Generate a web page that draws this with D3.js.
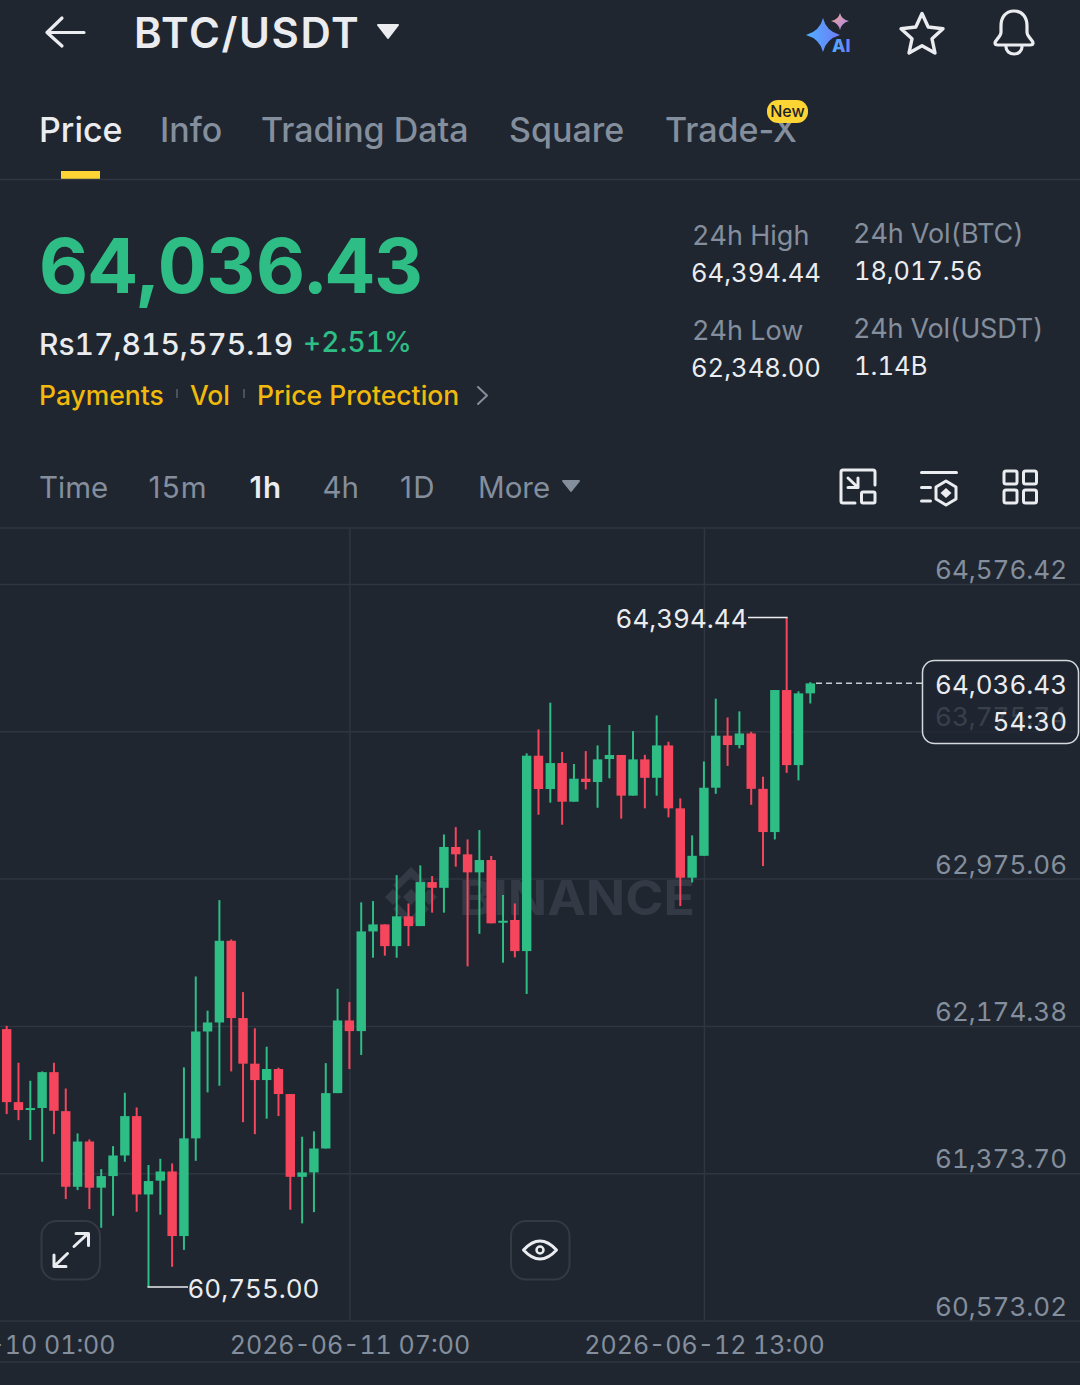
<!DOCTYPE html>
<html>
<head>
<meta charset="utf-8">
<style>
  html, body { margin: 0; padding: 0; background: #1f2630; }
  svg { display: block; }
  text { font-family: Inter, sans-serif; font-variant-numeric: tabular-nums; }
  .axis path { display: none; }
  .grid line { stroke: #2f3641; stroke-width: 1.5; }
  .prices text { font-size: 26px; fill: #848e9c; text-anchor: end; }
  .times text { font-size: 25px; fill: #848e9c; }
</style>
</head>
<body>
<svg width="1080" height="1385"></svg>
<script src="https://d3js.org/d3.v7.min.js"></script>
<script>

var opens = [62157,61760,61717,61728,61923,61711,61300,61546,61295,61358,61470,61684,61258,61333,61383,61032,61563,62144,62193,62637,62217,61969,61880,61940,61804,61354,61378,61508,61809,62204,
  62146,62688,62726,62608,62770,62717,62956,62925,63147,63107,63009,63076,62735,62750,62581,63643,63462,63603,63393,63518,63500,63625,63647,63426,63623,63523,63699,63357,62980,
  63099,63469,63752,63701,63764,63463,63228,64000,63592,63982];
var highs = [62175,61974,61876,61927,61974,61834,61590,61557,61396,61521,61811,61731,61418,61452,61427,61949,62443,62257,62858,62644,62358,62161,62061,61947,61804,61572,61601,61972,62376,62304,
  62846,62853,62726,62994,62840,63047,62989,63215,63255,63188,63239,63098,62886,62840,63656,63786,63931,63663,63598,63668,63699,63810,63647,63777,63648,63862,63719,63411,63210,
  63612,63953,63851,63884,63773,63529,64000,64394.44,63993,64043];
var lows = [61695,61662,61554,61436,61586,61233,61282,61179,61077,61142,61436,61164,60755,61148,60865,60957,61441,61813,61849,61927,61651,61586,61670,61684,61175,61101,61162,61508,61809,61940,
  62016,62545,62556,62545,62608,62717,62790,62790,63040,62498,62675,62732,62518,62547,62348,63322,63388,63268,63393,63460,63360,63520,63301,63426,63357,63426,63308,62826,62954,
  63099,63436,63588,63683,63376,63043,63188,63550,63509,63927];
var closes = [61760,61717,61728,61923,61713,61300,61546,61295,61358,61470,61684,61258,61331,61383,61032,61563,62144,62193,62637,62217,61969,61880,61940,61804,61354,61378,61508,61809,62204,62146,
  62688,62726,62608,62770,62717,62956,62925,63147,63107,63009,63076,62732,62746,62581,63643,63462,63603,63393,63518,63500,63623,63647,63426,63623,63523,63699,63357,62980,63099,
  63469,63752,63701,63764,63463,63228,64000,63592,63982,64036.43];

var priceTicks = [64576.42, 63775.74, 62975.06, 62174.38, 61373.70, 60573.02];
var timeTicks = [Date.UTC(2026,5,10,1), Date.UTC(2026,5,11,7), Date.UTC(2026,5,12,13)];
var firstCandle = Date.UTC(2026,5,10,2);
var lastCandle = Date.UTC(2026,5,12,22);
var dayHigh = 64394.44, dayLow = 60755.00, lastPrice = 64036.43;

var tabs = ["Price", "Info", "Trading Data", "Square", "Trade-X"];
var intervals = ["Time", "15m", "1h", "4h", "1D", "More"];

var green = "#2ebd85", red = "#f6465d", white = "#eaecef", gray = "#848e9c", yellow = "#fcd535", gold = "#f0b90b";
var bg = "#1f2630";

var svg = d3.select("svg");

var x = d3.scaleUtc().domain([firstCandle, lastCandle]).range([6.67, 810.3]);
var y = d3.scaleLinear().domain([60573.02, 64576.42]).range([1320.5, 584]);

function label(txt, px, py, size, fill, weight, anchor, spacing) {
  return svg.append("text").attr("x", px).attr("y", py)
    .attr("font-size", size).attr("fill", fill)
    .attr("font-weight", weight || 400)
    .attr("text-anchor", anchor || "start")
    .style("letter-spacing", (spacing || 0) + "px")
    .text(txt);
}

function icon(d, width, color) {
  return svg.append("path").attr("d", d).attr("fill", "none")
    .attr("stroke", color || white).attr("stroke-width", width)
    .attr("stroke-linecap", "round").attr("stroke-linejoin", "round");
}

// header
icon("M84 32.5H47M62 18L47 32.5L62 46", 3.2);
label("BTC/USDT", 134, 48, 42, white, 600, "start", 1.6);
svg.append("path").attr("d", "M378 25H398L388 38Z").attr("fill", white)
  .attr("stroke", white).attr("stroke-width", 2).attr("stroke-linejoin", "round");

var defs = svg.append("defs");
var aiGrad = defs.append("linearGradient").attr("id", "ai").attr("x1", 0).attr("y1", 0).attr("x2", 1).attr("y2", 0);
aiGrad.append("stop").attr("offset", "0").attr("stop-color", "#4fb0ff");
aiGrad.append("stop").attr("offset", "1").attr("stop-color", "#6f7bf7");
var aiGrad2 = defs.append("linearGradient").attr("id", "ai2").attr("x1", 0).attr("y1", 0).attr("x2", 1).attr("y2", 1);
aiGrad2.append("stop").attr("offset", "0").attr("stop-color", "#f0a98e");
aiGrad2.append("stop").attr("offset", "1").attr("stop-color", "#a884f5");
svg.append("path").attr("d", "M823 18Q826 31 840 35Q826 39 823 52Q820 39 806 35Q820 31 823 18Z").attr("fill", "url(#ai)");
svg.append("path").attr("d", "M840 13Q841.5 19.5 849 21Q841.5 23 840 30Q838.5 23 831 21Q838.5 19.5 840 13Z").attr("fill", "url(#ai2)");
label("AI", 832, 52, 17.5, "url(#ai)", 800);

icon("M922 13.5L928.2 27L943 28.8L932 38.8L935 53L922 45.8L909 53L912 38.8L901 28.8L915.8 27Z", 3.4);
icon("M1014 11C1005 11 1001 18 1001 26V32C1001 37 995 40 995 43Q995 45 998 45H1030Q1033 45 1033 43C1033 40 1027 37 1027 32V26C1027 18 1023 11 1014 11ZM1006 47A8 7 0 0 0 1022 47", 3.2);

// tabs
var tabX = [39, 160, 261, 509, 665];
tabs.forEach(function(t, i) {
  label(t, tabX[i], 142, 34, i == 0 ? white : gray, 500).style("font-variant-numeric", "normal");
});
svg.append("rect").attr("x", 61).attr("y", 171).attr("width", 39).attr("height", 8).attr("fill", yellow);
svg.append("rect").attr("x", 767).attr("y", 100).attr("width", 41).attr("height", 23).attr("rx", 11).attr("fill", yellow);
label("New", 787.5, 117, 16, "#1e2329", 500, "middle");
svg.append("line").attr("x1", 0).attr("x2", 1080).attr("y1", 179.5).attr("y2", 179.5).attr("stroke", "#2f3641").attr("stroke-width", 1.5);

// ticker block
label("64,036.43", 39, 293, 76, green, 700);
label("Rs17,815,575.19", 39, 355, 30, white, 500);
label("+2.51%", 303, 352, 28, green, 500, "start", 0.2);
label("Payments", 39, 405, 26.5, gold, 500);
label("Vol", 190, 405, 26.5, gold, 500);
label("Price Protection", 257, 405, 26.5, gold, 500);
svg.selectAll(".sep").data([177, 244]).enter().append("line").attr("class", "sep")
  .attr("x1", function(d) { return d; }).attr("x2", function(d) { return d; })
  .attr("y1", 389).attr("y2", 398).attr("stroke", "#4a515d").attr("stroke-width", 2);
icon("M478 387L487 395.5L478 404", 2, gray);

label("24h High", 692, 245, 27, gray);
label("64,394.44", 691, 282, 25.6, white);
label("24h Low", 692, 340, 27, gray);
label("62,348.00", 691, 377, 25.6, white);
label("24h Vol(BTC)", 853, 243, 27, gray, 400, "start", -0.1);
label("18,017.56", 854, 280, 25.3, white);
label("24h Vol(USDT)", 853, 338, 27, gray, 400, "start", -0.2);
label("1.14B", 854, 375, 25.6, white);

// interval row
var intervalX = [39, 148.5, 249.5, 322.5, 400, 478];
var intervalSpacing = [0, 1.2, 1, 0, 1.2, 0];
intervals.forEach(function(t, i) {
  label(t, intervalX[i], 498, 29.5, i == 2 ? white : gray, i == 2 ? 600 : 400, "start", intervalSpacing[i])
    .style("font-variant-numeric", "normal");
});
svg.append("path").attr("d", "M563 481H579L571 491Z").attr("fill", gray)
  .attr("stroke", gray).attr("stroke-width", 2).attr("stroke-linejoin", "round");

icon("M855 503H843Q841 503 841 501V472Q841 470 843 470H873Q875 470 875 472V485M848 478L858 487.5M848 487.5H858V478", 3);
svg.append("rect").attr("x", 861.5).attr("y", 492).attr("width", 13.5).attr("height", 11).attr("rx", 1.5)
  .attr("fill", "none").attr("stroke", white).attr("stroke-width", 3);
icon("M921.5 472.5H956.5M921.5 487.5H930.5M921.5 501H930.5M946 481L956 487V499L946 505L936 499V487Z", 3);
svg.append("path").attr("d", "M946 488L951.5 493L946 498L940.5 493Z").attr("fill", white);
svg.selectAll(".cell").data([[1004,471],[1023.5,471],[1004,490],[1023.5,490]]).enter().append("rect").attr("class", "cell")
  .attr("x", function(d) { return d[0]; }).attr("y", function(d) { return d[1]; })
  .attr("width", 13).attr("height", 13).attr("rx", 2)
  .attr("fill", "none").attr("stroke", white).attr("stroke-width", 3);

// grid
svg.selectAll(".frame").data([528, 1362]).enter().append("line").attr("class", "frame")
  .attr("x1", 0).attr("x2", 1080)
  .attr("y1", function(d) { return d; }).attr("y2", function(d) { return d; })
  .attr("stroke", "#2f3641").attr("stroke-width", 1.5);

svg.append("g").attr("class", "axis grid")
  .attr("transform", "translate(1080,0)")
  .call(d3.axisLeft(y).tickValues(priceTicks).tickSize(1080).tickFormat(""));

svg.append("g").attr("class", "axis grid")
  .attr("transform", "translate(0,1320.5)")
  .call(d3.axisTop(x).tickValues(timeTicks).tickSize(792).tickFormat(""));

// watermark sits under the candles
var mark = svg.append("g").attr("fill", "#343a45");
mark.append("text").attr("x", 459).attr("y", 915).attr("font-size", 48).attr("font-weight", 700)
  .attr("textLength", 236).attr("lengthAdjust", "spacingAndGlyphs").text("BINANCE");
mark.append("path").attr("d",
  "M411 889L419 897L411 905L403 897Z" +
  "M393 889L401 897L393 905L385 897Z" +
  "M429 889L437 897L429 905L421 897Z" +
  "M411 867L429 885L424 890L411 877L398 890L393 885Z" +
  "M411 927L429 909L424 904L411 917L398 904L393 909Z");

// price axis labels, the middle one ends up dimmed behind the box
svg.append("g").attr("class", "axis prices")
  .attr("transform", "translate(1067,0)")
  .call(d3.axisLeft(y).tickValues(priceTicks).tickSize(0).tickPadding(0).tickFormat(d3.format(",.2f")))
  .selectAll("text").attr("dy", -5.5);

svg.append("g").attr("class", "axis times")
  .attr("transform", "translate(0,1320.5)")
  .call(d3.axisBottom(x).tickValues(timeTicks).tickSize(0).tickPadding(16)
    .tickFormat(d3.utcFormat("%Y-%m-%d %H:%M")));

// candles
var times = d3.utcHour.range(firstCandle, lastCandle + 1);
var candles = times.map(function(t, i) {
  return {time: t, open: opens[i], high: highs[i], low: lows[i], close: closes[i]};
});
function candleColor(d) { return d.close >= d.open ? green : red; }

var candle = svg.append("g").selectAll("g").data(candles).enter().append("g");

candle.append("line")
  .attr("x1", function(d) { return x(d.time); })
  .attr("x2", function(d) { return x(d.time); })
  .attr("y1", function(d) { return y(d.high); })
  .attr("y2", function(d) { return y(d.low); })
  .attr("stroke", candleColor)
  .attr("stroke-width", 2);

candle.append("rect")
  .attr("x", function(d) { return x(d.time) - 4.7; })
  .attr("y", function(d) { return y(Math.max(d.open, d.close)); })
  .attr("width", 9.4)
  .attr("height", function(d) { return Math.max(2, Math.abs(y(d.open) - y(d.close))); })
  .attr("fill", candleColor);

// high, low and last price marks
var highX = x(times[66]), lowX = x(times[12]);
svg.append("line").attr("x1", 748).attr("x2", highX + 1).attr("y1", y(dayHigh)).attr("y2", y(dayHigh)).attr("stroke", white).attr("stroke-width", 1.5);
label(d3.format(",.2f")(dayHigh), 747.5, y(dayHigh) + 10.5, 26, white, 400, "end");
svg.append("line").attr("x1", lowX - 1).attr("x2", 188).attr("y1", y(dayLow)).attr("y2", y(dayLow)).attr("stroke", white).attr("stroke-width", 1.5);
label(d3.format(",.2f")(dayLow), 187.5, y(dayLow) + 10.5, 26, white);

svg.append("line").attr("x1", 816).attr("x2", 922).attr("y1", y(lastPrice)).attr("y2", y(lastPrice))
  .attr("stroke", "#c9ccd2").attr("stroke-width", 1.5).attr("stroke-dasharray", "6,4");
svg.append("rect").attr("x", 922.5).attr("y", 660.5).attr("width", 156).attr("height", 83).attr("rx", 12)
  .attr("fill", bg).attr("fill-opacity", 0.75).attr("stroke", "#d5d8dc").attr("stroke-width", 1.5);
label(d3.format(",.2f")(lastPrice), 1067, 694, 26, white, 400, "end");
label("54:30", 1067, 731, 26, white, 400, "end");

// floating buttons
svg.selectAll(".btn").data([41.5, 511]).enter().append("rect").attr("class", "btn")
  .attr("x", function(d) { return d; }).attr("y", 1221).attr("width", 58.5).attr("height", 58.5).attr("rx", 15)
  .attr("fill", bg).attr("stroke", "#343a45").attr("stroke-width", 2);
icon("M74 1246.5L88 1233.5M76 1233.5H88.5V1245.5M67.5 1253.5L54 1266.5M54 1255V1266.5H66", 3);
icon("M523.5 1250Q540 1232 556.5 1250Q540 1268 523.5 1250Z", 3);
svg.append("circle").attr("cx", 540).attr("cy", 1250).attr("r", 3.5).attr("fill", "none").attr("stroke", white).attr("stroke-width", 2.5);

</script>
</body>
</html>
